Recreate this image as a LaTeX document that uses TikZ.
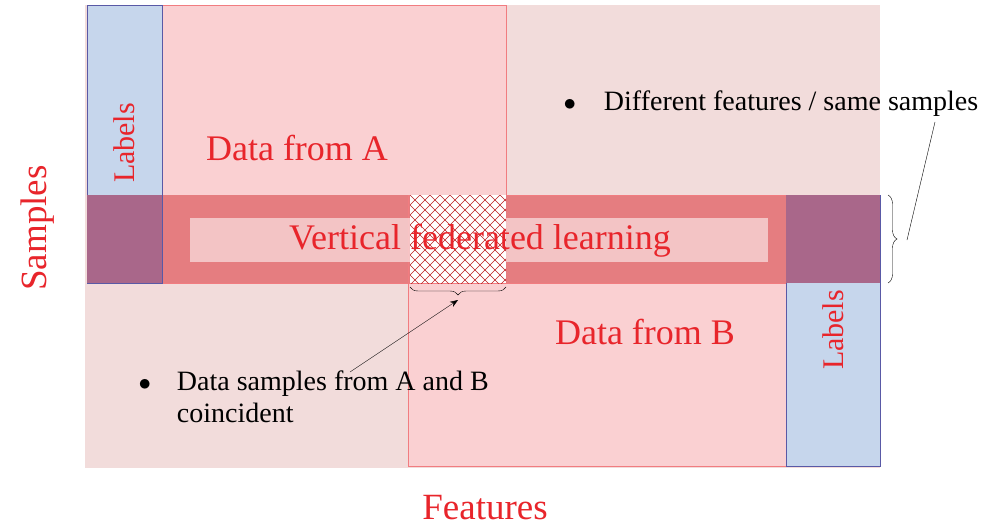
\documentclass[tikz,border=0pt]{standalone}
\usepackage{fontspec}
\setmainfont{Liberation Serif}
\usetikzlibrary{decorations.pathreplacing,arrows.meta}
\definecolor{bg}{HTML}{F2DCDB}
\definecolor{dat}{HTML}{FAD0D2}
\definecolor{band}{HTML}{E57D80}
\definecolor{lab}{HTML}{C6D6EC}
\definecolor{labov}{HTML}{A9678A}
\definecolor{txt}{HTML}{E8252B}
\begin{document}
\begin{tikzpicture}[x=1pt,y=-1pt,
  redtxt/.style={text=txt,font=\fontsize{36}{40}\selectfont},
  blk/.style={font=\fontsize{28}{32}\selectfont,align=left,anchor=west}]
\useasboundingbox (0,0) rectangle (1005,530);
\fill[bg] (85,5) rectangle (880,468);
\fill[dat,draw=txt!60,line width=0.6pt] (162,5) rectangle (506,283);
\fill[dat,draw=txt!60,line width=0.6pt] (408,195) rectangle (786,466);
\fill[band] (162,195) rectangle (786,283);
\draw[txt!60,line width=0.6pt] (408,195) rectangle (786,283);
\fill[lab,draw=blue!30!gray,line width=0.6pt] (87,5) rectangle (162,283);
\fill[lab,draw=blue!30!gray,line width=0.6pt] (786,195) rectangle (880,466);
\fill[labov] (87,195) rectangle (162,283);
\fill[labov] (786,195) rectangle (880,283);
\fill[white,opacity=0.55] (190,218) rectangle (768,262);
\fill[white] (410,195) rectangle (506,283);
\begin{scope}
\clip (410,195) rectangle (506,283);
\foreach \k in {-100,-90,...,200} {
  \draw[txt!80!black,line width=0.6pt] (410+\k,195) -- ++(100,100);
  \draw[txt!80!black,line width=0.6pt] (410+\k,295) -- ++(100,-100);
}
\end{scope}
\node[redtxt] (va) at (297,148) {Data from A};
\node[redtxt] (vb) at (645,332) {Data from B};
\node[redtxt] (vfl) at (480,241) {Vertical federated learning};
\node[redtxt,font=\fontsize{30}{34}\selectfont,rotate=90] (la) at (124,143) {Labels};
\node[redtxt,font=\fontsize{30}{34}\selectfont,rotate=90] (lb) at (833,330) {Labels};
\node[redtxt,font=\fontsize{37}{40}\selectfont,rotate=90] (smp) at (38,228) {Samples};
\node[redtxt,font=\fontsize{37}{40}\selectfont] (ft) at (485,508) {Features};
\node[blk] (d1) at (560,104) {$\bullet$\hspace{28pt}Different features / same samples};
\node[blk] (d2) at (135,397) {$\bullet$\hspace{26pt}\parbox[t]{400pt}{Data samples from A and B\\coincident}};
\draw[decorate,decoration={brace,amplitude=8pt,mirror}] (410,287) -- (506,287) coordinate[midway] (bm);
\draw[decorate,decoration={brace,amplitude=9pt}] (888,195) -- (888,283);
\coordinate (bs) at (458,300);
\coordinate (rb) at (907,240);
\coordinate (ae) at (350,372);
\coordinate (le) at (935,122);
\draw[-{Stealth[length=8pt]}] (ae) -- (bs);
\draw (rb) -- (le);
\end{tikzpicture}
\end{document}
